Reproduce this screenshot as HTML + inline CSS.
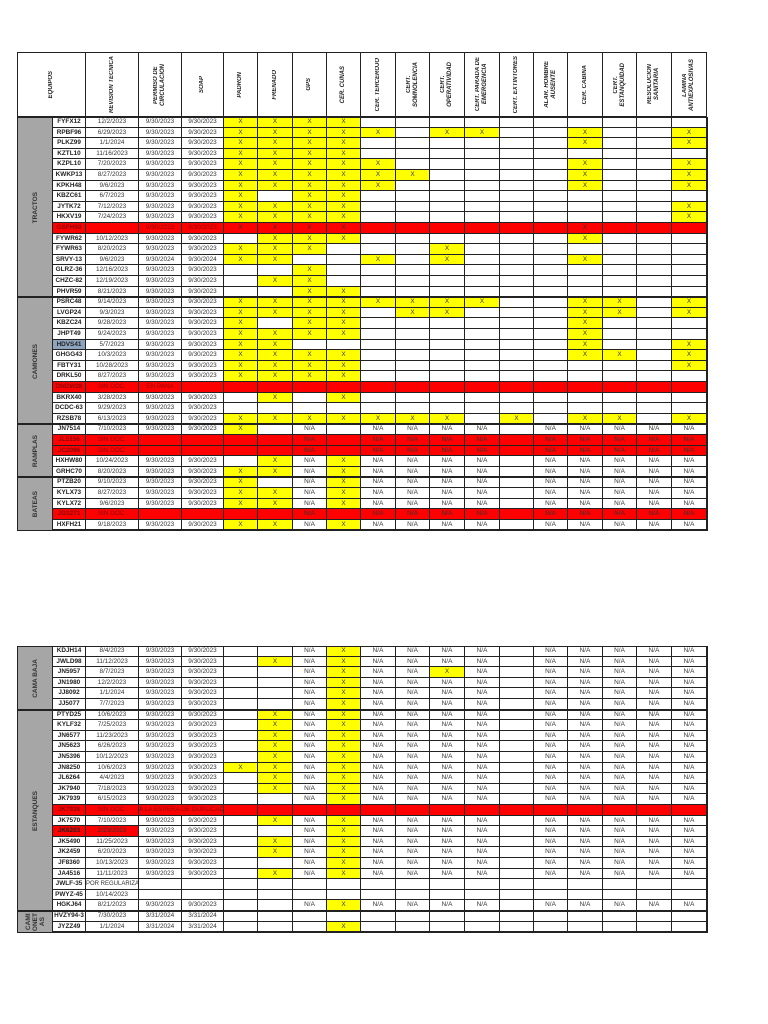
<!DOCTYPE html>
<html><head><meta charset="utf-8"><style>
body{margin:0;width:768px;height:1024px;background:#fff;position:relative;overflow:hidden;font-family:"Liberation Sans",sans-serif}
.c{position:absolute;box-sizing:border-box;border-right:1px solid #222;border-bottom:1px solid #222;font-size:6.4px;color:#333;text-align:center;overflow:hidden;white-space:nowrap}
.code{font-weight:bold;color:#222}
.h{position:absolute;box-sizing:border-box;border-right:1px solid #222;border-bottom:1.5px solid #222;display:flex;align-items:center;justify-content:center}
.h span{writing-mode:vertical-rl;transform:rotate(180deg);font-size:6px;font-weight:bold;font-style:italic;text-align:center;line-height:7px;color:#222}
.g{position:absolute;box-sizing:border-box;background:#a6a6a6;border:1px solid #222;display:flex;align-items:center;justify-content:center}
.g span{writing-mode:vertical-rl;transform:rotate(180deg);font-size:6.5px;font-weight:bold;color:#333;text-align:center;line-height:7px}
</style></head><body>
<script>
const colX=[17,52,86,139,182,224,258,293,327,361,396,430,465,500,534,568,603,637,672,707];
const headers=["EQUIPOS","REVISION TECNICA","PERMISO DE<br>CIRCULACION","SOAP","PADRON","FRENADO","GPS","CER. CUÑAS","CER. TERCEROJO","CERT.<br>SOMNOLENCIA","CERT.<br>OPERATIVIDAD","CERT. PARADA DE<br>EMERGENCIA","CERT. EXTINTORES","ALAR. HOMBRE<br>AUSENTE","CER. CABINA","CERT.<br>ESTANQUIDAD","RESOLUCION<br>SANITARIA","LAMINA<br>ANTIEXPLOSIVAS"];
const rows1=[
"FYFX12|12/2/2023|9/30/2023|9/30/2023|XXXX..........|",
"RPBF96|6/29/2023|9/30/2023|9/30/2023|XXXXX.XX..X..X|",
"PLKZ99|1/1/2024|9/30/2023|9/30/2023|XXXX......X..X|",
"KZTL10|11/16/2023|9/30/2023|9/30/2023|XXXX..........|",
"KZPL10|7/20/2023|9/30/2023|9/30/2023|XXXXX.....X..X|",
"KWKP13|8/27/2023|9/30/2023|9/30/2023|XXXXXX....X..X|",
"KPKH48|9/6/2023|9/30/2023|9/30/2023|XXXXX.....X..X|",
"KBZC61|6/7/2023|9/30/2023|9/30/2023|X.XX..........|",
"JYTK72|7/12/2023|9/30/2023|9/30/2023|XXXX.........X|",
"HKXV19|7/24/2023|9/30/2023|9/30/2023|XXXX.........X|",
"GSFH99||9/30/2023|9/30/2023|XXXX......X...|r",
"FYWR62|10/12/2023|9/30/2023|9/30/2023|.XXX......X...|",
"FYWR63|8/20/2023|9/30/2023|9/30/2023|XXX...X.......|",
"SRVY-13|9/6/2023|9/30/2024|9/30/2024|XX..X.X...X...|",
"GLRZ-36|12/16/2023|9/30/2023|9/30/2023|..X...........|",
"CHZC-82|12/19/2023|9/30/2023|9/30/2023|.XX...........|",
"PHVR59|8/21/2023|9/30/2023|9/30/2023|..XX..........|",
"PSRC48|9/14/2023|9/30/2023|9/30/2023|XXXXXXXX..XX.X|",
"LVGP24|9/3/2023|9/30/2023|9/30/2023|XXXX.XX...XX.X|",
"KBZC24|9/28/2023|9/30/2023|9/30/2023|X.XX......X...|",
"JHPT49|9/24/2023|9/30/2023|9/30/2023|XXXX......X...|",
"HDVS41|5/7/2023|9/30/2023|9/30/2023|XX........X..X|b",
"GHGG43|10/3/2023|9/30/2023|9/30/2023|XXXX......XX.X|",
"FBTY31|10/28/2023|9/30/2023|9/30/2023|XXXX.........X|",
"DRKL50|8/27/2023|9/30/2023|9/30/2023|XXXX..........|",
"DNDW28|SIN DOC.|EN PANA||..............|r",
"BKRX40|3/28/2023|9/30/2023|9/30/2023|.X.X..........|",
"DCDC-63|9/29/2023|9/30/2023|9/30/2023|..............|",
"RZSB78|6/13/2023|9/30/2023|9/30/2023|XXXXXXX.X.XX.X|",
"JN7514|7/10/2023|9/30/2023|9/30/2023|X.N.NNNN.NNNNN|",
"JL5156|SIN DOC.|||..N.NNNN.NNNNN|r",
"JC2096|SIN DOC.|||..N.NNNN.NNNNN|r",
"HXHW80|10/24/2023|9/30/2023|9/30/2023|.XNXNNNN.NNNNN|",
"GRHC70|8/20/2023|9/30/2023|9/30/2023|XXNXNNNN.NNNNN|",
"PTZB20|9/10/2023|9/30/2023|9/30/2023|X.NXNNNN.NNNNN|",
"KYLX73|8/27/2023|9/30/2023|9/30/2023|XXNXNNNN.NNNNN|",
"KYLX72|9/6/2023|9/30/2023|9/30/2023|XXNXNNNN.NNNNN|",
"JG3271|SIN DOC.|||..N.NNNN.NNNNN|r",
"HXFH21|9/18/2023|9/30/2023|9/30/2023|XXNXNNNN.NNNNN|"];
const rows2=[
"KDJH14|8/4/2023|9/30/2023|9/30/2023|..NXNNNN.NNNNN|",
"JWLD98|11/12/2023|9/30/2023|9/30/2023|.XNXNNNN.NNNNN|",
"JN5957|8/7/2023|9/30/2023|9/30/2023|..NXNNXN.NNNNN|",
"JN1980|12/2/2023|9/30/2023|9/30/2023|..NXNNNN.NNNNN|",
"JJ8092|1/1/2024|9/30/2023|9/30/2023|..NXNNNN.NNNNN|",
"JJ5077|7/7/2023|9/30/2023|9/30/2023|..NXNNNN.NNNNN|",
"PTYD25|10/6/2023|9/30/2023|9/30/2023|.XNXNNNN.NNNNN|",
"KYLF32|7/25/2023|9/30/2023|9/30/2023|.XNXNNNN.NNNNN|",
"JN6577|11/23/2023|9/30/2023|9/30/2023|.XNXNNNN.NNNNN|",
"JN5623|6/26/2023|9/30/2023|9/30/2023|.XNXNNNN.NNNNN|",
"JN5396|10/12/2023|9/30/2023|9/30/2023|.XNXNNNN.NNNNN|",
"JN8250|10/6/2023|9/30/2023|9/30/2023|XXNXNNNN.NNNNN|",
"JL6264|4/4/2023|9/30/2023|9/30/2023|.XNXNNNN.NNNNN|",
"JK7940|7/18/2023|9/30/2023|9/30/2023|.XNXNNNN.NNNNN|",
"JK7939|6/15/2023|9/30/2023|9/30/2023|..NXNNNN.NNNNN|",
"JK7938|SIN DOC.|A LA ESPERA DE DUPLICADO|@|..............|r",
"JK7570|7/10/2023|9/30/2023|9/30/2023|.XNXNNNN.NNNNN|",
"JK6203|2/23/2023|9/30/2023|9/30/2023|..NXNNNN.NNNNN|c",
"JK5490|11/25/2023|9/30/2023|9/30/2023|.XNXNNNN.NNNNN|",
"JK2459|6/20/2023|9/30/2023|9/30/2023|.XNXNNNN.NNNNN|",
"JF8360|10/13/2023|9/30/2023|9/30/2023|..NXNNNN.NNNNN|",
"JA4516|11/11/2023|9/30/2023|9/30/2023|.XNXNNNN.NNNNN|",
"JWLF-35|POR REGULARIZAR|||..............|",
"PWYZ-45|10/14/2023|||..............|",
"HGKJ64|8/21/2023|9/30/2023|9/30/2023|..NXNNNN.NNNNN|",
"HVZY94-3|7/30/2023|3/31/2024|3/31/2024|..............|",
"JYZZ49|1/1/2024|3/31/2024|3/31/2024|...X..........|"];
const groups1=[["TRACTOS",0,17],["CAMIONES",17,12],["RAMPLAS",29,5],["BATEAS",34,5]];
const groups2=[["CAMA BAJA",0,6],["ESTANQUES",6,19],["CAMI<br>ONET<br>AS",25,2]];
const RH=10.6;
function div(cls,x,y,w,h,html,name){const d=document.createElement('div');d.className=cls;
d.style.left=x+'px';d.style.top=y+'px';d.style.width=w+'px';d.style.height=h+'px';


d.innerHTML=html;document.body.appendChild(d);return d;}
function table(rows,groups,top){
  groups.forEach(g=>{div('g',colX[0],top+g[1]*RH,colX[1]-colX[0]+1,g[2]*RH+1,'<span>'+g[0]+'</span>','group-label');});
  rows.forEach((r,i)=>{
    const p=r.split('|');const y=Math.round(top+i*RH);const y2=Math.round(top+(i+1)*RH);const red=p[5]==='r';
    for(let c=0;c<18;c++){
      const x=colX[c+1],w=colX[c+2]-colX[c+1];
      let txt='',bg='#fff',cls='c';
      if(c<4){txt=p[c];if(c===0)cls+=' code';}
      else{const v=p[4][c-4];txt=v==='X'?'X':v==='N'?'N/A':'';if(v==='X')bg='#ffff00';}
      if(red)bg='#ff0000';
      if(p[5]==='c'&&c<2)bg='#ff0000';
      if(p[5]==='b'&&c===0)bg='#8ea3bd';
      if(p[3]==='@'&&c===3)continue;
      let ww=w;if(p[3]==='@'&&c===2)ww=colX[5]-colX[3];
      const d=div(cls,x,y,ww,y2-y,txt,c===0?'vehicle-code':'cell');
      d.style.background=bg;d.style.lineHeight=(y2-y-1)+'px';
      if(c===0)d.style.borderLeft='1px solid #222';
      if(red&&c<4)d.style.color='#800';
      if(p[1]==='POR REGULARIZAR'&&c===1){d.style.fontSize='6px';}
    }
  });
  const last=rows.length*RH;
  const f=div('',colX[0],top,colX[19]-colX[0]+1,last+1,'','table-frame');
  f.style.position='absolute';f.style.border='1.5px solid #222';f.style.boxSizing='border-box';f.style.pointerEvents='none';
  groups.forEach(g=>{if(g[1]>0){const l=div('',colX[0],Math.round(top+g[1]*RH)-1,colX[19]-colX[0],2,'','group-divider');l.style.position='absolute';l.style.background='#222';}});
}
const hTop=52,hBot=117;
const h0=div('h',colX[0],hTop,colX[2]-colX[0],hBot-hTop,'<span>'+headers[0]+'</span>','header-equipos');
h0.style.borderLeft='1.5px solid #222';h0.style.borderTop='1.5px solid #222';
for(let i=1;i<18;i++){const d=div('h',colX[i+1],hTop,colX[i+2]-colX[i+1],hBot-hTop,'<span>'+headers[i]+'</span>','column-header');d.style.borderTop='1.5px solid #222';}
table(rows1,groups1,117);
table(rows2,groups2,646);
</script>
</body></html>
